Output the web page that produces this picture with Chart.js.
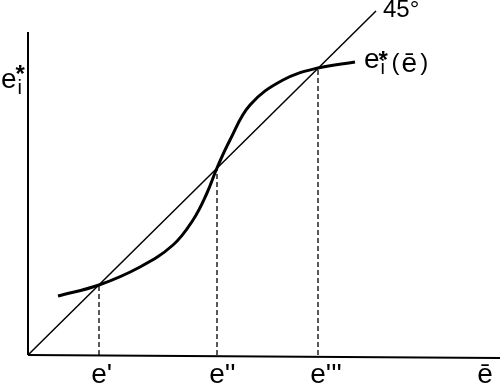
<!DOCTYPE html>
<html>
<head>
<meta charset="utf-8">
<script src="https://cdn.jsdelivr.net/npm/chart.js@4"></script>
<style>
  body { margin: 0; background: #fff; }
  #wrap { width: 500px; height: 387px; }
</style>
</head>
<body>
<div id="wrap"><canvas id="myChart"></canvas></div>
<script>
// 축 (데이터 좌표)
const yAxisPts = [{x: 0, y: 0}, {x: 0, y: 323}];
const xAxisPts = [{x: 0, y: 0}, {x: 472, y: -3}];

// 45도 선
const diagonalPts = [{x: 0, y: 0}, {x: 348, y: 344}];

// e_i*(ē) 곡선
const curveX = [30, 71, 112, 145, 165, 179, 189, 202, 222, 255, 290, 327];
const curveY = [59, 70, 88, 110, 135, 162, 187, 215, 250, 275, 287, 293];

// 교점 (점선)
const equilX = [71, 189, 290];
const equilY = [70, 187, 287];

// x축 라벨
const tickValues = [71, 189, 290, 457];
const tickLabels = ["e'", "e''", "e'''", "ē"];

const FONT = '"Liberation Sans Narrow", "Liberation Sans", Arial, sans-serif';

const ctx = document.getElementById('myChart').getContext('2d');

function lineSet(data, width, dash) {
  return {
    data: data,
    showLine: true,
    borderColor: '#000',
    borderWidth: width,
    borderDash: dash || [],
    pointRadius: 0,
    fill: false,
    clip: false
  };
}

const dashedSets = equilX.map((x, i) =>
  lineSet([{x: x, y: 0}, {x: x, y: equilY[i]}], 1.3, [5, 3]));

// 텍스트 그리는 플러그인
const labelPlugin = {
  id: 'labels',
  afterDraw(chart) {
    const c = chart.ctx;
    const sx = chart.scales.x, sy = chart.scales.y;
    c.save();
    c.fillStyle = '#000';
    c.textBaseline = 'alphabetic';
    c.textAlign = 'left';

    // x축 라벨
    c.font = '28px ' + FONT;
    const eW = c.measureText('e').width;
    tickValues.forEach((v, i) => {
      const px = sx.getPixelForValue(v);
      c.fillText(tickLabels[i], px - eW / 2, 383);
    });

    // 45°
    const dEnd = diagonalPts[diagonalPts.length - 1];
    c.font = '24px ' + FONT;
    c.fillText('45°', sx.getPixelForValue(dEnd.x) + 7, sy.getPixelForValue(dEnd.y) + 6);

    // e_i*(ē) 곡선 라벨
    let x = sx.getPixelForValue(curveX[curveX.length - 1]) + 9;
    const base = sy.getPixelForValue(curveY[curveY.length - 1]) + 6;
    c.font = '28px ' + FONT;
    c.fillText('e', x, base);
    x += c.measureText('e').width;
    c.font = 'bold 24px ' + FONT;
    c.fillText('*', x - 1, base);
    c.font = '20px ' + FONT;
    c.fillText('i', x + 1, base + 6);
    x += 12;
    c.font = '24px ' + FONT;
    c.fillText('(', x, base + 2);
    x += c.measureText('(').width + 2;
    c.font = '28px ' + FONT;
    c.fillText('ē', x, base + 4);
    x += c.measureText('ē').width + 3;
    c.font = '24px ' + FONT;
    c.fillText(')', x, base + 2);

    // y축 라벨
    c.font = '28px ' + FONT;
    c.fillText('e', 1, 88);
    const w = c.measureText('e').width;
    c.font = 'bold 24px ' + FONT;
    c.fillText('*', w, 82);
    c.font = '20px ' + FONT;
    c.fillText('i', 2 + w, 94);
    c.restore();
  }
};

const chart = new Chart(ctx, {
  type: 'scatter',
  data: {
    datasets: [
      lineSet(yAxisPts, 2),
      lineSet(xAxisPts, 2),
      lineSet(diagonalPts, 1.5),
      Object.assign(
        lineSet(curveX.map((x, i) => ({x: x, y: curveY[i]})), 3),
        {tension: 0.4}
      ),
      ...dashedSets
    ]
  },
  options: {
    responsive: true,
    maintainAspectRatio: false,
    animation: false,
    layout: { padding: { left: 28, right: 0, top: 5, bottom: 27 } },
    plugins: {
      legend: { display: false },
      tooltip: { enabled: false }
    },
    scales: {
      x: { type: 'linear', min: 0, max: 472, display: false },
      y: { type: 'linear', min: -5, max: 350, display: false }
    }
  },
  plugins: [labelPlugin]
});
</script>
</body>
</html>
